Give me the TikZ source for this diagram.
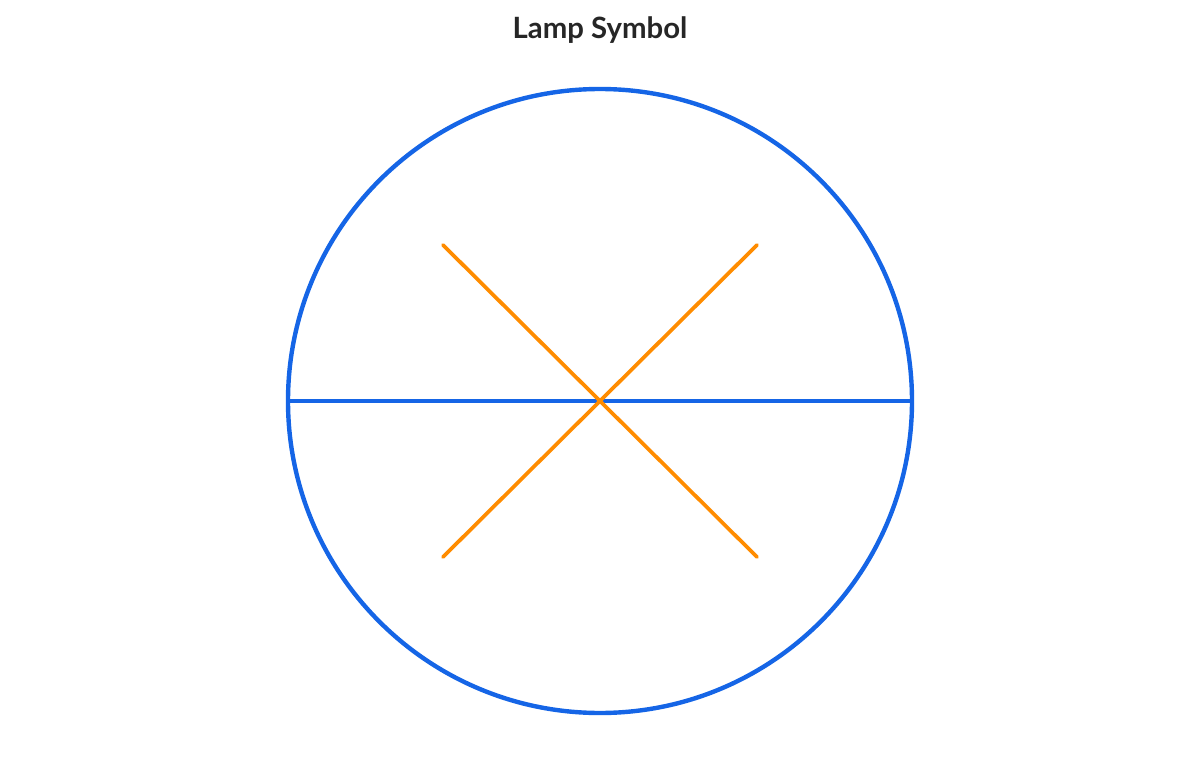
\documentclass[tikz,border=0pt]{standalone}
\usepackage{fontspec}
\setmainfont{Lato}
\definecolor{lampblue}{HTML}{1565E6}
\definecolor{lamporange}{HTML}{FF8C00}
\begin{document}
\begin{tikzpicture}[x=0.75pt,y=-0.75pt,
  ring/.style={draw=lampblue,line width=3.3pt},
  ray/.style={draw=lamporange,line width=2.8pt,line cap=round},
  titletext/.style={font=\fontsize{22}{26}\selectfont\bfseries,text=black!85}]
\useasboundingbox (0,0) rectangle (1200,763);
\node[titletext] (title) at (600,30) {Lamp Symbol};
\coordinate (c) at (600,401);
\draw[ring] (c) circle[radius=312];
\coordinate (w) at (288,401);
\coordinate (e) at (912,401);
\draw[ring] (w) -- (e);
\coordinate (nw) at (443,245);
\coordinate (ne) at (757,245);
\coordinate (sw) at (443,557);
\coordinate (se) at (757,557);
\draw[ray] (nw) -- (se);
\draw[ray] (ne) -- (sw);
\end{tikzpicture}
\end{document}
